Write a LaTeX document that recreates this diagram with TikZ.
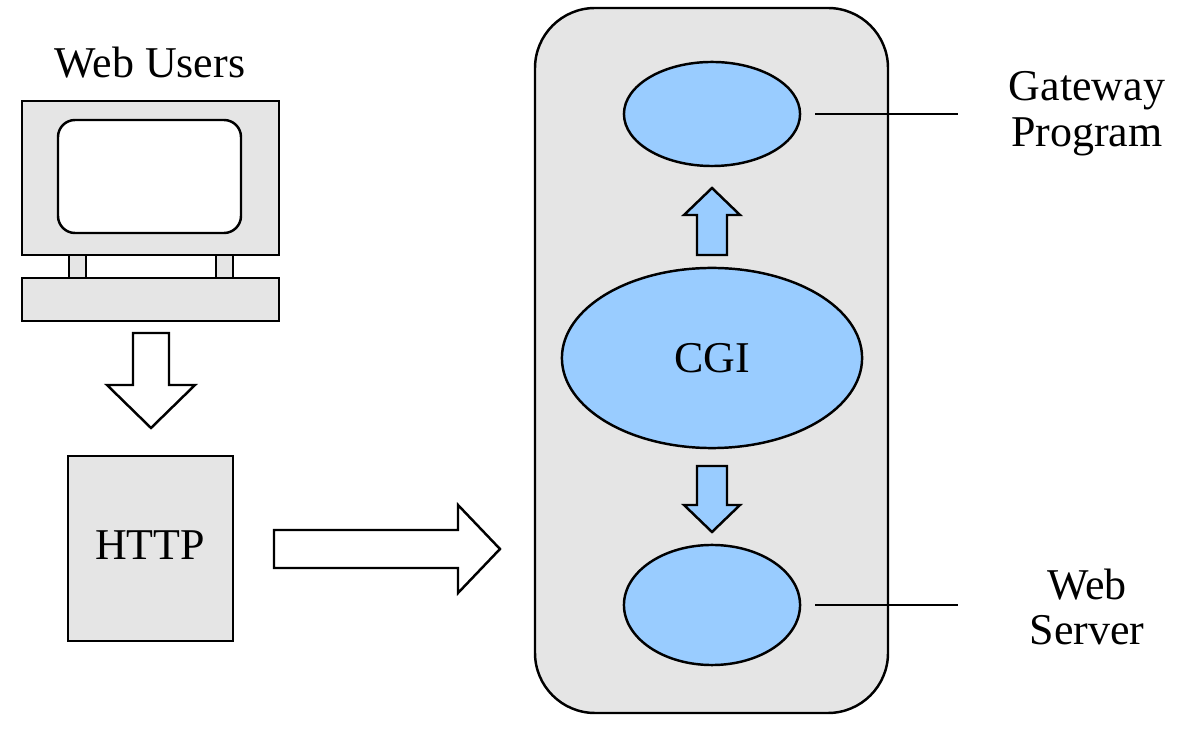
\documentclass[tikz,border=0pt]{standalone}
\usepackage{fontspec}
\setmainfont{Liberation Serif}
\usetikzlibrary{shapes.geometric}
\begin{document}
\begin{tikzpicture}[x=0.01cm,y=-0.01cm,
  gray box/.style={draw,line width=0.7pt,fill=gray!20},
  blob/.style={draw,line width=0.7pt,fill=blue1,ellipse,inner sep=0pt},
  lbl/.style={font=\fontsize{12.5}{15}\selectfont,align=center}]
\definecolor{blue1}{HTML}{99CCFF}
\useasboundingbox (0,0) rectangle (1200,731);
% monitor
\draw[gray box] (22,101) rectangle (279,255);
\draw[line width=0.7pt,fill=white,rounded corners=0.17cm] (58,120) rectangle (241,233);
\draw[gray box] (69,255) rectangle (86,278);
\draw[gray box] (216,255) rectangle (233,278);
\draw[gray box] (22,278) rectangle (279,321);
\node[lbl] (users) at (150,63) {Web Users};
% down hollow arrow
\draw[line width=0.7pt,fill=white] (133,333) -- (169,333) -- (169,385) -- (195,385) -- (151,428) -- (107,385) -- (133,385) -- cycle;
% HTTP
\draw[gray box] (68,456) rectangle (233,641);
\node[lbl] (http) at (150,545) {HTTP};
% right arrow
\draw[line width=0.7pt,fill=white] (274,530) -- (458,530) -- (458,505) -- (500,549) -- (458,593) -- (458,568) -- (274,568) -- cycle;
% server box
\draw[gray box,rounded corners=0.6cm] (535,8) rectangle (888,713);
\node[blob,minimum width=1.76cm,minimum height=1.04cm] (gp) at (712,114) {};
\node[blob,minimum width=3.0cm,minimum height=1.8cm,lbl] (cgi) at (712,358) {CGI};
\node[blob,minimum width=1.76cm,minimum height=1.2cm] (ws) at (712,605) {};
\draw[line width=0.7pt,fill=blue1] (697,255) -- (697,215) -- (684,215) -- (712,188) -- (740,215) -- (727,215) -- (727,255) -- cycle;
\draw[line width=0.7pt,fill=blue1] (697,466) -- (697,505) -- (684,505) -- (712,532) -- (740,505) -- (727,505) -- (727,466) -- cycle;
\coordinate (g1) at (815,114); \coordinate (g2) at (958,114);
\coordinate (w1) at (815,605); \coordinate (w2) at (958,605);
\draw[line width=0.8pt] (g1) -- (g2);
\draw[line width=0.8pt] (w1) -- (w2);
\node[lbl,font=\fontsize{12.5}{13}\selectfont] (gpl) at (1087,114) {Gateway\\Program};
\node[lbl,font=\fontsize{12.5}{13}\selectfont] (wsl) at (1087,607) {Web\\Server};
\end{tikzpicture}
\end{document}
